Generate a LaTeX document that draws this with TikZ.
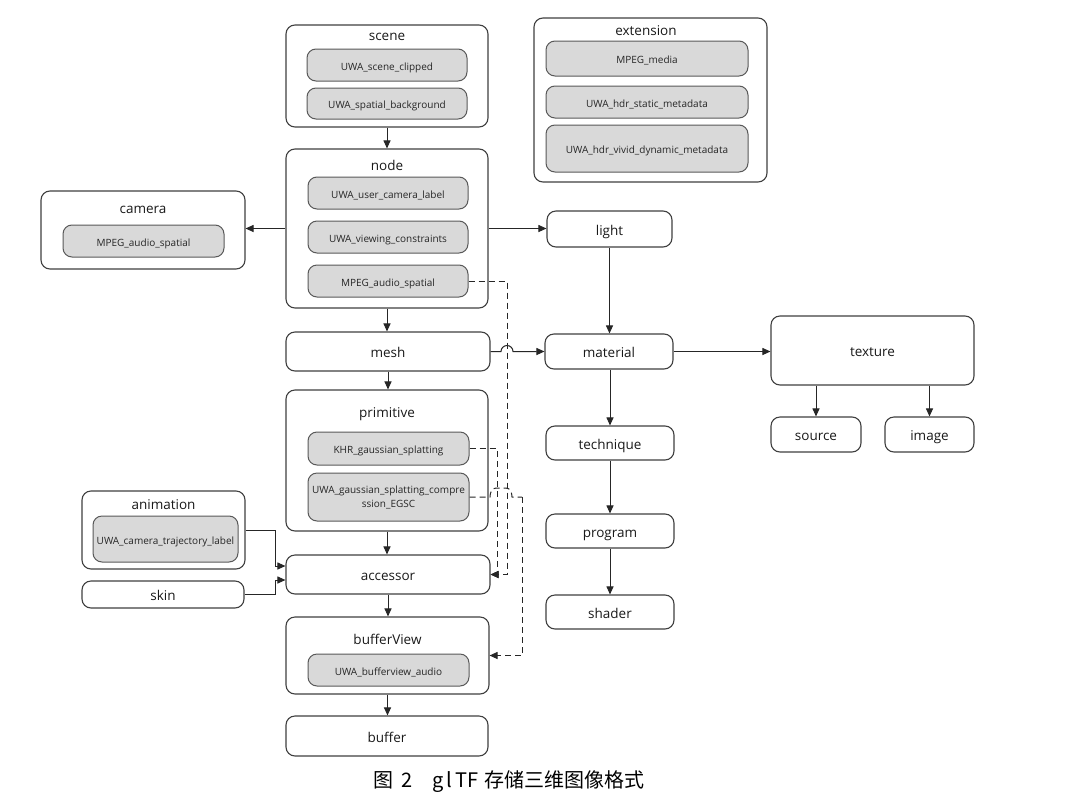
\documentclass[tikz,border=0pt]{standalone}
\usepackage{fontspec}
\setmainfont{Open Sans}
\newfontfamily\cjk{Noto Sans CJK SC}
\usetikzlibrary{arrows.meta}
\begin{document}
\begin{tikzpicture}[x=1pt,y=-1pt,
 outer/.style={draw=black!75, line width=1.1pt, rounded corners=9pt, fill=white, inner sep=0pt, font=\fontsize{13.5}{16}\selectfont, text=black!90, text height=12.5pt, text depth=0pt},
 inbox/.style={draw=black!65, line width=1pt, rounded corners=9pt, fill=black!15, inner sep=0pt, font=\fontsize{10}{14}\selectfont, text=black!85, align=center},
 inb/.style={inbox, text height=10pt, text depth=0pt},
 ttl/.style={font=\fontsize{13.5}{16}\selectfont, text=black!90, inner sep=0pt},
 arr/.style={draw=black!85, line width=1pt, -{Triangle[length=8pt,width=7pt]}},
 dsh/.style={arr, dash pattern=on 6pt off 4pt},
 dln/.style={draw=black!85, line width=1pt, dash pattern=on 6pt off 4pt},
]
\useasboundingbox[fill=white] (0,0) rectangle (1077,801);

% scene
\node[outer, minimum width=202pt, minimum height=102pt] (scene) at (387,76) {};
\node[ttl] (scenet) at (387,37) {scene};
\node[inb, minimum width=160pt, minimum height=32pt] (sc1) at (387,65) {UWA\_scene\_clipped};
\node[inb, minimum width=160pt, minimum height=31pt] (sc2) at (387,103.5) {UWA\_spatial\_background};

% node
\node[outer, minimum width=202pt, minimum height=159pt] (node) at (387,228.5) {};
\node[ttl] (nodet) at (387,165) {node};
\node[inb, minimum width=160pt, minimum height=32pt] (n1) at (388,193) {UWA\_user\_camera\_label};
\node[inb, minimum width=160pt, minimum height=32pt] (n2) at (388,237) {UWA\_viewing\_constraints};
\node[inb, minimum width=160pt, minimum height=32pt] (n3) at (388,281) {MPEG\_audio\_spatial};

% camera
\node[outer, minimum width=204pt, minimum height=78pt] (camera) at (143,230) {};
\node[ttl] (camerat) at (143,210) {camera};
\node[inb, minimum width=161pt, minimum height=32pt] (cam1) at (143.5,241) {MPEG\_audio\_spatial};

% extension
\node[outer, minimum width=233pt, minimum height=164pt] (ext) at (650.5,100) {};
\node[ttl] (extt) at (646,31) {extension};
\node[inb, minimum width=202pt, minimum height=35pt] (e1) at (647,58.5) {MPEG\_media};
\node[inb, minimum width=202pt, minimum height=32pt] (e2) at (647,102) {UWA\_hdr\_static\_metadata};
\node[inb, minimum width=202pt, minimum height=47pt] (e3) at (647,148.5) {UWA\_hdr\_vivid\_dynamic\_metadata};

% right column
\node[outer, minimum width=125pt, minimum height=36pt] (light) at (609.5,229) {light};
\node[outer, minimum width=128pt, minimum height=35pt] (material) at (609,351.5) {material};
\node[outer, minimum width=203pt, minimum height=69pt] (texture) at (872.5,350.5) {texture};
\node[outer, minimum width=90pt, minimum height=35pt] (source) at (816,434.5) {source};
\node[outer, minimum width=89pt, minimum height=35pt] (image) at (929.5,434.5) {image};
\node[outer, minimum width=128pt, minimum height=34pt] (technique) at (610,443) {technique};
\node[outer, minimum width=128pt, minimum height=34pt] (program) at (610,531) {program};
\node[outer, minimum width=128pt, minimum height=34pt] (shader) at (610,612) {shader};

% centre column
\node[outer, minimum width=204pt, minimum height=39pt] (mesh) at (388,351.5) {mesh};
\node[outer, minimum width=202pt, minimum height=141pt] (prim) at (387,460.5) {};
\node[ttl] (primt) at (387,414) {primitive};
\node[inb, minimum width=161pt, minimum height=33pt] (p1) at (388.5,448.5) {KHR\_gaussian\_splatting};
\node[inbox, minimum width=161pt, minimum height=48pt] (p2) at (388.5,497) {UWA\_gaussian\_splatting\_compre\\ssion\_EGSC};
\node[outer, minimum width=204pt, minimum height=39pt] (acc) at (388,574.5) {accessor};
\node[outer, minimum width=203pt, minimum height=77pt] (bv) at (387.5,655.5) {};
\node[ttl] (bvt) at (387.5,639) {bufferView};
\node[inb, minimum width=161pt, minimum height=32pt] (b1) at (388.5,670) {UWA\_bufferview\_audio};
\node[outer, minimum width=202pt, minimum height=40pt] (buffer) at (387,736) {buffer};

% left column
\node[outer, minimum width=163pt, minimum height=78pt] (anim) at (163.5,530) {};
\node[ttl] (animt) at (163.5,505) {animation};
\node[inb, minimum width=145pt, minimum height=46pt] (a1) at (165.5,539) {UWA\_camera\_trajectory\_label};
\node[outer, minimum width=162pt, minimum height=27pt] (skin) at (163,594.5) {skin};

% caption
\node[inner sep=0pt, font=\cjk\fontsize{20}{22}\selectfont] (cap) at (509,782) {图\hspace{8pt}2\hspace{20pt}g\,l\,TF\hspace{6pt}存储三维图像格式};

% solid connectors
\draw[arr] (scene.south) -- (node.north);
\draw[arr] (node.south) -- (node.south |- mesh.north);
\draw[arr] (node.west) -- (node.west -| camera.east);
\draw[arr] (node.east) -- (node.east -| light.west);
\draw[arr] (light.south) -- (light.south |- material.north);
\draw[arr] (mesh.east) -- (501,351.5) arc[start angle=180, end angle=0, radius=6pt] -- (material.west);
\draw[arr] (material.east) -- (material.east -| texture.west);
\draw[arr] (texture.south -| source.north) -- (source.north);
\draw[arr] (texture.south -| image.north) -- (image.north);
\draw[arr] (material.south -| technique.north) -- (technique.north);
\draw[arr] (technique.south) -- (program.north);
\draw[arr] (program.south) -- (shader.north);
\draw[arr] (mesh.south) -- (mesh.south |- prim.north);
\draw[arr] (prim.south) -- (prim.south |- acc.north);
\draw[arr] (acc.south) -- (acc.south |- bv.north);
\draw[arr] (bv.south) -- (bv.south |- buffer.north);
\draw[arr] (anim.east) -- (275,530) |- ([yshift=8.5pt]acc.west);
\draw[arr] (skin.east) -- (275,594.5) |- ([yshift=-5.5pt]acc.west);

% dashed connectors
\draw[dsh] (n3.east) -- (507,281) |- (acc.east);
\draw[dsh] (p1.east) -- (497,448.5) |- (acc.east);
\draw[dln] (p2.east) -- (490,497) to[out=90,in=180] (496,488) -- (506,488) to[out=0,in=90] (512,497) -- (522,497);
\draw[dsh] (522,497) |- (bv.east);
\end{tikzpicture}
\end{document}
